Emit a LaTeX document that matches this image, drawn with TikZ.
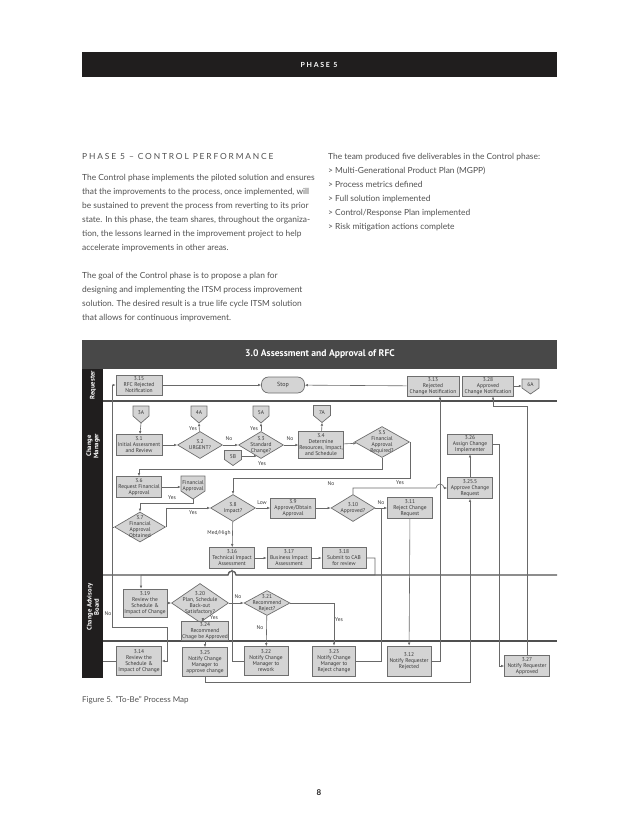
\documentclass[tikz,border=0pt]{standalone}
\usepackage{fontspec}
\setmainfont{Lato}
\newfontfamily\chartfont{PT Sans}
\usetikzlibrary{arrows.meta,positioning,shapes.geometric}
\definecolor{pagetext}{RGB}{80,80,80}
\definecolor{barblack}{RGB}{32,30,30}
\definecolor{titlegray}{RGB}{72,72,72}
\definecolor{boxfill}{RGB}{212,212,212}
\definecolor{boxline}{RGB}{110,110,110}
\definecolor{boxtext}{RGB}{55,55,55}
\definecolor{flowline}{RGB}{105,105,105}
\definecolor{laneline}{RGB}{80,80,80}
\newcommand{\boxfont}{\chartfont\fontsize{5.5}{6}\selectfont}
\newcommand{\bodyfont}{\fontsize{8.4}{14}\selectfont}
% off-page connector: name, centre, width, height, point, text
\newcommand{\offpage}[6]{%
  \filldraw[offshape] (#2) ++({-#3/2},{-#4/2}) -- ++(#3,0) -- ++(0,{#4-#5})
    -- ++({-#3/2},#5) -- ++({-#3/2},{-#5}) -- cycle;
  \node[minimum width=#3pt,minimum height=#4pt,inner sep=0pt,
        label={[offtxt,yshift=1.5pt]center:{#6}}] (#1) at (#2) {};}

\begin{document}
\begin{tikzpicture}[x=1pt,y=-1pt,
  bodytext/.style={font=\bodyfont,text=pagetext,align=left,inner sep=0pt,anchor=north west},
  box/.style={rectangle,draw=boxline,fill=boxfill,line width=0.7pt,align=center,
              font=\boxfont,text=boxtext,inner sep=0.5pt,minimum width=45pt,minimum height=21pt},
  decision/.style={diamond,draw=boxline,fill=boxfill,line width=0.7pt,inner sep=0pt},
  dectxt/.style={align=center,font=\boxfont,text=boxtext,inner sep=0pt},
  offshape/.style={draw=boxline,fill=boxfill,line width=0.7pt},
  offtxt/.style={align=center,font=\boxfont,text=boxtext,inner sep=0pt},
  flow/.style={draw=flowline,line width=0.6pt,-{Latex[length=3pt,width=2.6pt]}},
  plainflow/.style={draw=flowline,line width=0.6pt},
  lbl/.style={font=\boxfont,text=boxtext,inner sep=0.5pt},
  lane/.style={draw=laneline,line width=1.3pt},
  lanelab/.style={font=\chartfont\bfseries\fontsize{6.6}{7.2}\selectfont,text=white,align=center}
]
\useasboundingbox (0,0) rectangle (638,826);

% page head
\fill[barblack] (82,52) rectangle (557,77);
\node[font=\bfseries\fontsize{7}{8}\selectfont\addfontfeature{LetterSpace=25},text=white] (phase) at (319,64.5) {PHASE 5};

% two text columns
\node[bodytext,font=\fontsize{8.4}{14}\selectfont\addfontfeature{LetterSpace=22}] (heading) at (82,153.5) {PHASE 5 – CONTROL PERFORMANCE};
\node[bodytext] (para1) at (82,174.5) {The Control phase implements the piloted solution and ensures\\
that the improvements to the process, once implemented, will\\
be sustained to prevent the process from reverting to its prior\\
state. In this phase, the team shares, throughout the organiza-\\
tion, the lessons learned in the improvement project to help\\
accelerate improvements in other areas.};
\node[bodytext] (para2) at (82,272.5) {The goal of the Control phase is to propose a plan for\\
designing and implementing the ITSM process improvement\\
solution. The desired result is a true life cycle ITSM solution\\
that allows for continuous improvement.};
\node[bodytext] (deliv) at (328,153.5) {The team produced five deliverables in the Control phase:\\
> Multi-Generational Product Plan (MGPP)\\
> Process metrics defined\\
> Full solution implemented\\
> Control/Response Plan implemented\\
> Risk mitigation actions complete};

% chart frame and lanes
\fill[titlegray] (82,340) rectangle (557,369);
\node[font=\chartfont\bfseries\fontsize{9.6}{11}\selectfont,text=white] (charttitle) at (320,354) {3.0 Assessment and Approval of RFC};
\fill[barblack] (82,369) rectangle (103,678);
\draw[lane] (103,401) -- (557,401);
\draw[lane] (103,575) -- (228,575) arc (180:360:4) -- (557,575);
\draw[lane] (103,641) -- (557,641);
\node[lanelab,rotate=90] (lreq) at (93,385) {Requester};
\node[lanelab,rotate=90] (lcm) at (93,446) {Change\\Manager};
\node[lanelab,rotate=90] (lcab) at (93,607) {Change Advisory\\Board};

% requester lane
\node[box,minimum width=46pt,minimum height=20pt] (n315) at (139,385) {3.15\\RFC Rejected\\Notification};
\node[box,rounded corners=7pt,minimum width=43pt,minimum height=16pt,font=\chartfont\fontsize{6}{7}\selectfont] (stop) at (283,385) {Stop};
\node[box,minimum width=52pt,minimum height=20pt] (n313) at (433,386) {3.13\\Rejected\\Change Notification};
\node[box,minimum width=51pt,minimum height=20pt] (n328) at (488,386) {3.28\\Approved\\Change Notification};
\offpage{c6A}{530.5,386.5}{17}{15}{6}{6A}

% change manager lane
\offpage{c3A}{141,414.5}{16}{17}{7}{3A}
\offpage{c4A}{199,414.5}{16}{17}{7}{4A}
\offpage{c5A}{261,414.5}{16}{17}{7}{5A}
\offpage{c7A}{322,414}{17}{17}{7}{7A}
\node[box,minimum width=46pt] (n31) at (139,445) {3.1\\Initial Assessment\\and Review};
\node[decision,minimum width=45pt,minimum height=27pt,label={[dectxt]center:{3.2\\URGENT?}}] (n32) at (200,445) {};
\node[decision,minimum width=45pt,minimum height=27pt,label={[dectxt]center:{3.3\\Standard\\Change?}}] (n33) at (261,445) {};
\offpage{c5B}{233,458}{17}{15}{6}{5B}
\node[box,minimum width=44pt,minimum height=27pt] (n34) at (321,445) {3.4\\Determine\\Resources, Impact,\\and Schedule};
\node[decision,minimum width=55pt,minimum height=31pt,label={[dectxt]center:{3.5\\Financial\\Approval\\Required?}}] (n35) at (382,442) {};
\node[box,minimum height=20pt] (n326) at (470,444) {3.26\\Assign Change\\Implementer};
\node[box] (n36) at (139,487) {3.6\\Request Financial\\Approval};
\offpage{finappr}{193,487.5}{24}{23}{8}{Financial\\Approval}
\node[box] (n3255) at (470,488) {3.25.5\\Approve Change\\Request};
\node[decision,minimum width=51pt,minimum height=30pt,label={[dectxt]center:{3.7\\Financial\\Approval\\Obtained}}] (n37) at (140,527) {};
\node[decision,minimum width=45pt,minimum height=27pt,label={[dectxt]center:{3.8\\Impact?}}] (n38) at (233,508) {};
\node[box,minimum height=20pt] (n39) at (293,508) {3.9\\Approve/Obtain\\Approval};
\node[decision,minimum width=44pt,minimum height=27pt,label={[dectxt]center:{3.10\\Approved?}}] (n310) at (353,508) {};
\node[box] (n311) at (410,508) {3.11\\Reject Change\\Request};
\node[box] (n316) at (232,558) {3.16\\Technical Impact\\Assessment};
\node[box,minimum width=44pt] (n317) at (289,558) {3.17\\Business Impact\\Assessment};
\node[box,minimum width=44pt] (n318) at (344,558) {3.18\\Submit to CAB\\for review};

% change advisory board lane
\node[box,minimum width=44pt,minimum height=28pt] (n319) at (145,603) {3.19\\Review the\\Schedule \&\\Impact of Change};
\node[decision,minimum width=57pt,minimum height=39pt,label={[dectxt]center:{3.20\\Plan, Schedule\\Back-out\\Satisfactory?}}] (n320) at (200,603) {};
\node[decision,minimum width=46pt,minimum height=25pt,label={[dectxt]center:{3.21\\Recommend\\Reject?}}] (n321) at (267,603) {};
\node[box,minimum height=19pt] (n324) at (205,631) {3.24\\Recommend\\Chage be Approved};

% bottom lane
\node[box,minimum height=29pt] (n314) at (139,661) {3.14\\Review the\\Schedule \&\\Impact of Change};
\node[box,minimum height=29pt] (n325) at (205,662) {3.25\\Notify Change\\Manager to\\approve change};
\node[box,minimum width=44pt,minimum height=29pt] (n322) at (266,661) {3.22\\Notify Change\\Manager to\\rework};
\node[box,minimum width=43pt,minimum height=30pt] (n323) at (334,661) {3.23\\Notify Change\\Manager to\\Reject change};
\node[box,minimum width=44pt,minimum height=30pt] (n312) at (409,661) {3.12\\Notify Requester\\Rejected};
\node[box] (n327) at (527,666) {3.27\\Notify Requester\\Approved};

% bends
\coordinate (k35yes) at (139,469);
\coordinate (k35no) at (233,478);
\coordinate (kfin) at (140,503);
\coordinate (k5b) at (257,456);
\coordinate (k311) at (381,508);
\coordinate (k318) at (375,575);
\coordinate (k327) at (527,406);
\coordinate (k325) at (205,682);
\coordinate (kno) at (112,627);
\coordinate (kin314) at (103,661);

% connectors
\draw[flow] (n315) -- (stop);
\draw[flow] (n313) -- (stop);
\draw[flow] (n328) -- (c6A.west |- n328);
\draw[flow] (c3A.south) -- (n31);
\draw[flow] (n31) -- (n32);
\draw[flow] (n32) -- (c4A.south);
\draw[flow] (n32) -- (n33);
\draw[flow] (n33) -- (c5A.south);
\draw[flow] (n33) -- (n34);
\draw[flow] (c5B.east |- k5b) -- (k5b);
\draw[flow] (n34) -- (c7A.south);
\draw[flow] (n34) -- (n35);
\draw[flow] (n35.south) |- (k35yes) -- (n36);
\draw[flow] (n35.east) |- (k35no) -- (n38);
\draw[flow] (n36) -- (finappr.west |- n36);
\draw[flow] (finappr.south) |- (kfin) -- (n37);
\draw[flow] (n37.east) |- (n38);
\draw[flow] (n38) -- (n39);
\draw[flow] (n39) -- (n310);
\draw[flow] (n310) -- (n311);
\draw[flow] (n310.north) |- (436,488) arc (180:360:4) -- (n3255);
\draw[flow] (n38) -- (n316);
\draw[flow] (n316) -- (n317);
\draw[flow] (n317) -- (n318);
\draw[flow] (n318) -| (k318) -- (236,575) arc (0:-180:4) -- (141,575) -- ([xshift=-4pt]n319.north);
\draw[flow] (n3255) -- (n326);
\draw[flow] (n326) -- (499,444) |- (n327);
\draw[flow] (n327) -- (k327) -| ([xshift=5pt]n328.south);
\draw[flow] (n311) -- (n312);
\draw[flow] (n312) -| ([xshift=7pt]n313.south);
\draw[plainflow] (n323) -| (k311);
\draw[flow] (n319) -- (n320);
\draw[flow] (n320) -- (n321);
\draw[flow] (n320) -- (n324);
\draw[flow] (n321) -- (n322);
\draw[flow] (n321) -| (n323);
\draw[flow] (n324) -- (n325);
\draw[flow] (n322) -| (n316);
\draw[flow] (n325) -- (k325) -| (n3255);
\draw[flow] (n37.west) -- (112,527) |- (n315);
\draw[flow] (112,527) -- (kno) -- (167,627) |- (n314);
\draw[plainflow] (kin314) -- (n314);

% branch labels
\node[lbl] (y1) at (193,429) {Yes};
\node[lbl] (y2) at (254,429) {Yes};
\node[lbl] (no1) at (229,439) {No};
\node[lbl] (no2) at (290,439) {No};
\node[lbl] (y3) at (262,464) {Yes};
\node[lbl] (no3) at (331,484) {No};
\node[lbl] (y4) at (400,483) {Yes};
\node[lbl] (y5) at (172,498) {Yes};
\node[lbl] (y6) at (193,513) {Yes};
\node[lbl] (low) at (262,503) {Low};
\node[lbl] (no4) at (381,503) {No};
\node[lbl] (med) at (219,533) {Med/High};
\node[lbl] (no5) at (238,597) {No};
\node[lbl] (y7) at (214,618) {Yes};
\node[lbl] (no6) at (260,628) {No};
\node[lbl] (y8) at (339,620) {Yes};
\node[lbl] (no7) at (108,614) {No};

% caption and folio
\node[font=\fontsize{8}{10}\selectfont,text=pagetext,anchor=west,inner sep=0pt] (caption) at (82,700) {Figure 5. "To-Be" Process Map};
\node[font=\bfseries\fontsize{8}{10}\selectfont,text=barblack] (folio) at (319,793) {8};
\end{tikzpicture}
\end{document}
